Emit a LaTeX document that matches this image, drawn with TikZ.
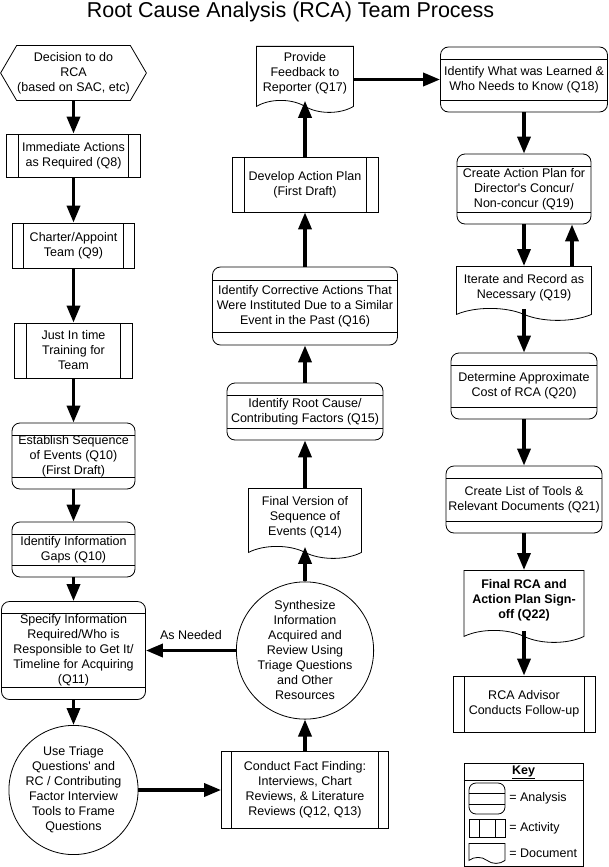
\documentclass[tikz,border=0pt]{standalone}
\usepackage{fontspec}
\setmainfont{Liberation Sans}
\usetikzlibrary{arrows.meta,shapes.symbols}
\tikzset{
  block/.style = {draw=black, line width=0.8pt, align=center, inner sep=0pt,
    font=\fontsize{12.5}{15}\selectfont},
  analysis/.style = {block, rectangle, rounded corners=8pt,
    path picture={
      \draw ([yshift=-#1]path picture bounding box.north west)
        -- ([yshift=-#1]path picture bounding box.north east);
      \draw ([yshift=#1]path picture bounding box.south west)
        -- ([yshift=#1]path picture bounding box.south east);}},% analyse
  analysis/.default = 12pt,
  activity/.style = {block, rectangle,
    path picture={
      \draw ([xshift=#1]path picture bounding box.north west)
        -- ([xshift=#1]path picture bounding box.south west);
      \draw ([xshift=-#1]path picture bounding box.north east)
        -- ([xshift=-#1]path picture bounding box.south east);}},% activite
  activity/.default = 11pt,
  document/.style = {block, tape, tape bend top=none, tape bend bottom=out and in,
    tape bend height=12pt, anchor=north},% document
  bubble/.style = {block, circle, minimum size=129pt},
  flow/.style = {->, line width=3.5pt}
}

\begin{document}
\begin{tikzpicture}[x=1pt, y=-1pt, >={Triangle[length=17pt,width=13pt]}]
\useasboundingbox (0,0) rectangle (608,867);
\node [font=\fontsize{21.5}{25}\selectfont, anchor=base] (title) at (290.5,17.5)
  {Root Cause Analysis (RCA) Team Process};

% left column
\node [block, draw=none, minimum width=113pt, minimum height=54pt] (dec) at (73.5,73)
  {Decision to do\\RCA\\(based on SAC, etc)};
\draw [line width=0.8pt] (dec.north west) -- (dec.north east) -- ([xshift=16pt]dec.east)
  -- (dec.south east) -- (dec.south west) -- ([xshift=-16pt]dec.west) -- cycle;
\node [activity=12pt, minimum width=134pt, minimum height=43pt] (imm) at (73.5,155.5)
  {Immediate Actions\\as Required (Q8)};
\node [activity, minimum width=122pt, minimum height=45pt] (charter) at (73.5,245.5)
  {Charter/Appoint\\Team (Q9)};
\node [activity=12pt, minimum width=118pt, minimum height=55pt] (jit) at (73.5,350.5)
  {Just In time\\Training for\\Team};
\node [analysis, minimum width=123pt, minimum height=66pt] (estab) at (73.5,456)
  {Establish Sequence\\of Events (Q10)\\(First Draft)};
\node [analysis, minimum width=123pt, minimum height=55pt] (gaps) at (73.5,549.5)
  {Identify Information\\Gaps (Q10)};
\node [analysis, minimum width=144pt, minimum height=98pt] (spec) at (73.5,650.5)
  {Specify Information\\Required/Who is\\Responsible to Get It/\\Timeline for Acquiring\\(Q11)};
\node [bubble] (triage) at (73.5,790)
  {Use Triage\\Questions\textquotesingle{} and\\RC / Contributing\\Factor Interview\\Tools to Frame\\Questions};

% middle column
\node [activity=10pt, minimum width=167pt, minimum height=77pt] (fact) at (305,790)
  {Conduct Fact Finding:\\Interviews, Chart\\Reviews, \& Literature\\Reviews (Q12, Q13)};
\node [bubble, minimum size=128pt] (synth) at (305,650.5)
  {Synthesize\\Information\\Acquired and\\Review Using\\Triage Questions\\and Other\\Resources};
\node [document, minimum width=113pt, minimum height=70pt] (finalver) at (305,488)
  {Final Version of\\Sequence of\\Events (Q14)};
\node [analysis, minimum width=156pt, minimum height=57pt] (root) at (305,411.5)
  {Identify Root Cause/\\Contributing Factors (Q15)};
\node [analysis=13pt, minimum width=185pt, minimum height=78pt] (corr) at (305,306)
  {Identify Corrective Actions That\\Were Instituted Due to a Similar\\Event in the Past (Q16)};
\node [activity=12pt, minimum width=146pt, minimum height=55pt] (develop) at (305,184.5)
  {Develop Action Plan\\(First Draft)};
\node [document, minimum width=97pt, minimum height=66pt] (feedback) at (305,46)
  {Provide\\Feedback to\\Reporter (Q17)};

% right column
\node [analysis, minimum width=167pt, minimum height=65pt] (learned) at (524,79.5)
  {Identify What was Learned \&\\Who Needs to Know (Q18)};
\node [analysis, minimum width=134pt, minimum height=70pt] (director) at (524,189)
  {Create Action Plan for\\Director\textquotesingle s Concur/\\Non-concur (Q19)};
\node [document, minimum width=135pt, minimum height=54pt] (iterate) at (524,266)
  {Iterate and Record as\\Necessary (Q19)};
\node [analysis, minimum width=146pt, minimum height=66pt] (determine) at (524,386)
  {Determine Approximate\\Cost of RCA (Q20)};
\node [analysis, minimum width=156pt, minimum height=67pt] (tools) at (524,499.5)
  {Create List of Tools \&\\Relevant Documents (Q21)};
\node [document, minimum width=120pt, minimum height=72pt, font=\fontsize{12.5}{15}\selectfont\bfseries]
  (signoff) at (524,570) {Final RCA and\\Action Plan Sign-\\off (Q22)};
\node [activity, minimum width=142pt, minimum height=56pt] (advisor) at (524,704)
  {RCA Advisor\\Conducts Follow-up};

% key
\node [draw, line width=0.8pt, minimum width=119pt, minimum height=103pt] (key) at (523.5,814.5) {};
\draw [line width=0.8pt] ([yshift=-18pt]key.north west) -- ([yshift=-18pt]key.north east);
\node [font=\fontsize{12.5}{15}\selectfont\bfseries] (keyttl) at (523.5,772) {\underline{Key}};
\node [analysis=10pt, rounded corners=7pt, minimum width=36pt, minimum height=31pt] (kana) at (487,798.5) {};
\node [activity=10pt, minimum width=36pt, minimum height=18pt] (kact) at (487,828) {};
\node [document, tape bend height=6pt, minimum width=36pt, minimum height=20pt] (kdoc) at (487,843) {};
\node [block, draw=none, anchor=west] (lana) at (kana.east) {~= Analysis};
\node [block, draw=none, anchor=west] (lact) at (kact.east) {~= Activity};
\node [block, draw=none, anchor=west] (ldoc) at ([yshift=-10pt]kdoc.north east) {~= Document};

% connectors
\draw [flow] (dec.south) -- (imm.north);
\draw [flow] (imm.south) -- (charter.north);
\draw [flow] (charter.south) -- (jit.north);
\draw [flow] (jit.south) -- (estab.north);
\draw [flow] (estab.south) -- (gaps.north);
\draw [flow] (gaps.south) -- (spec.north);
\draw [flow] (spec.south) -- (triage.north);
\draw [flow] (triage.east) -- (fact.west);
\draw [flow] (fact.north) -- (synth.south);
\draw [flow] (synth.west) -- node [above=6pt, font=\fontsize{12.5}{15}\selectfont] {As Needed} (spec.east);
\draw [flow] (synth.north) -- (finalver.south);
\draw [flow] (finalver.north) -- (root.south);
\draw [flow] (root.north) -- (corr.south);
\draw [flow] (corr.north) -- (develop.south);
\draw [flow] (develop.north) -- (feedback.south);
\draw [flow] (feedback.east |- learned.west) -- (learned.west);
\draw [flow] (learned.south) -- (director.north);
\draw [flow] (director.south) -- (iterate.north);
\draw [flow] ([xshift=48pt]iterate.north) -- ([xshift=48pt]director.south);
\draw [flow] (iterate.south) -- (determine.north);
\draw [flow] (determine.south) -- (tools.north);
\draw [flow] (tools.south) -- (signoff.north);
\draw [flow] (signoff.south) -- (advisor.north);
\end{tikzpicture}
\end{document}
